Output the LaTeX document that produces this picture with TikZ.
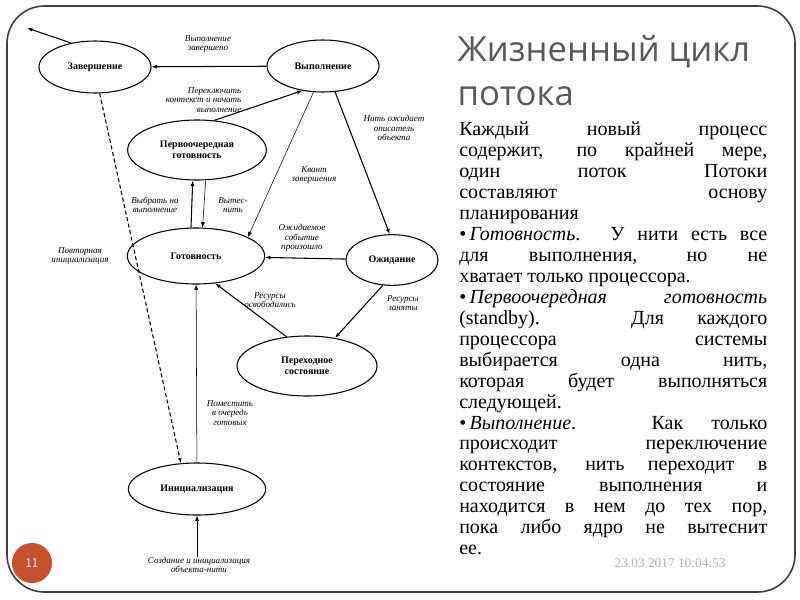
\documentclass[tikz,border=0pt]{standalone}
\usepackage{fontspec}
\setmainfont{Liberation Serif}
\newfontfamily\titlefont{Open Sans}
\usetikzlibrary{shapes.geometric,arrows.meta}
\begin{document}
\begin{tikzpicture}[x=0.75pt,y=-0.75pt,
  st/.style={draw,ellipse,thick,minimum width=#1,align=center,font=\fontsize{7.5}{8.5}\selectfont\bfseries},
  lab/.style={font=\fontsize{6.8}{7}\selectfont\itshape,align=center},
  ar/.style={-{Latex[length=4pt,width=3pt]},thick},
  arn/.style={-{Latex[length=4pt,width=3pt]}}]
\useasboundingbox (0,0) rectangle (800,600);
\fill[white] (0,0) rectangle (800,600);
\draw[line width=1.2pt,rounded corners=28pt,black!75] (7,6) rectangle (795,592);
\node[st=84pt,minimum height=39pt] (zav) at (95,67) {Завершение};
\node[st=84pt,minimum height=39pt] (vyp) at (323,66) {Выполнение};
\node[st=104pt,minimum height=45pt] (perv) at (197,150) {Первоочередная\\готовность};
\node[st=103pt,minimum height=42pt] (got) at (196,256) {Готовность};
\node[st=69pt,minimum height=38pt] (ozh) at (392,260) {Ожидание};
\node[st=105pt,minimum height=45pt] (per) at (307,366) {Переходное\\состояние};
\node[st=103pt,minimum height=39pt] (ini) at (197,489) {Инициализация};
\coordinate (out) at (27,28);
\coordinate (src) at (197,557);
\draw[ar] (zav.135) -- (out);
\draw[ar] (vyp) -- (zav);
\node[lab] (l1) at (208,44) {Выполнение\\завершено};
\draw[ar] (perv.60) -- (vyp.230);
\node[lab,align=right,anchor=east] (l2) at (246,100) {Переключить\\контекст и начать\\выполнение};
\draw[arn] (vyp.250) -- (got.20);
\node[lab] (l3) at (314,175) {Квант\\завершения};
\draw[ar] (vyp.295) -- (ozh.95);
\node[lab] (l4) at (394,128) {Нить ожидает\\описатель\\объекта};
\draw[ar] (got.100) -- (perv.262);
\node[lab] (l5) at (155,205) {Выбрать на\\выполнение};
\draw[arn] (perv.286) -- (got.77);
\node[lab] (l6) at (233,205) {Вытес-\\нить};
\draw[ar] (ozh) -- (got);
\node[lab] (l7) at (302,238) {Ожидаемое\\событие\\произошло};
\draw[ar] (ozh.250) -- (per.45);
\node[lab] (l8) at (403,303) {Ресурсы\\заняты};
\draw[ar] (per.125) -- (got.305);
\node[lab] (l9) at (270,300) {Ресурсы\\освободились};
\draw[arn] (ini) -- (got);
\node[lab] (l10) at (230,413) {Поместить\\в очередь\\готовых};
\draw[ar,densely dashed] (zav.280) -- (ini.122);
\node[lab] (l11) at (80,256) {Повторная\\инициализация};
\draw[arn] (src) -- (ini);
\node[lab] (l12) at (199,565) {Создание и инициализация\\объекта-нити};
\node[circle,fill={rgb,255:red,200;green,80;blue,42},minimum size=30pt,text=white,font=\fontsize{10}{10}\selectfont\sffamily] (pg) at (32,563) {11};
\node[anchor=west,text=black!30,font=\fontsize{10}{10}\selectfont] (date) at (610,563) {23.03.2017 10:04:53};
\node[anchor=base west,text=black!65,font=\titlefont\fontsize{26}{30}\selectfont] (t1) at (453,61) {Жизненный цикл};
\node[anchor=base west,text=black!65,font=\titlefont\fontsize{26}{30}\selectfont] (t2) at (453,105) {потока};
\node[anchor=north west,inner sep=0pt,text width=231pt,align=justify,font=\fontsize{15}{15.7}\selectfont] (body) at (459,122) {%
Каждый новый процесс\linebreak содержит, по крайней мере,\linebreak один поток Потоки\linebreak составляют основу\linebreak планирования\par
\textbullet\,\textit{Готовность}. У нити есть все\linebreak для выполнения, но не\linebreak хватает только процессора.\par
\textbullet\,\textit{Первоочередная готовность}\linebreak (standby). Для каждого\linebreak процессора системы\linebreak выбирается одна нить,\linebreak которая будет выполняться\linebreak следующей.\par
\textbullet\,\textit{Выполнение}. Как только\linebreak происходит переключение\linebreak контекстов, нить переходит в\linebreak состояние выполнения и\linebreak находится в нем до тех пор,\linebreak пока либо ядро не вытеснит\linebreak ее.};
\end{tikzpicture}
\end{document}
